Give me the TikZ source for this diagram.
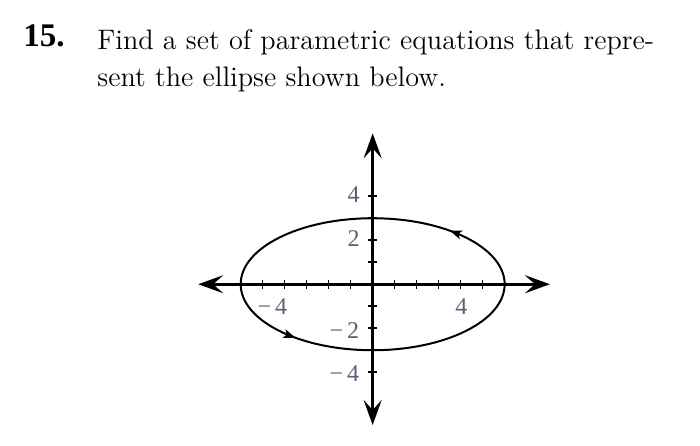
\documentclass[tikz,border=0pt]{standalone}
\usepackage{fontspec}
\usepackage{tikz}
\usetikzlibrary{arrows.meta,decorations.markings}
\newfontfamily\numfont{Liberation Serif}
\definecolor{labelgray}{RGB}{88,98,118}

\begin{document}
\begin{tikzpicture}[x=11pt, y=11pt,
	axisline/.style={line width=1.3pt, {Stealth[length=12.5pt, width=9pt, inset=5pt]}-{Stealth[length=12.5pt, width=9pt, inset=5pt]}},
	tickmark/.style={line width=0.8pt},
	lbl/.style={font=\numfont\fontsize{12}{14}\selectfont, text=labelgray, inner sep=0pt},
	txt/.style={font=\fontsize{14.1}{18}\selectfont, anchor=base west, inner sep=0pt},
	ellipsepath/.style={line width=1pt, postaction={decorate}, decoration={markings,
		mark=at position 0.127 with {\arrow{Stealth[length=6pt, width=4.5pt, inset=1.5pt]}},
		mark=at position 0.627 with {\arrow{Stealth[length=6pt, width=4.5pt, inset=1.5pt]}}}}]
	\useasboundingbox (-16.94,-7.35) rectangle (14.88,12.92);
	
	% problem text
	\node[anchor=base west, inner sep=0pt, font=\numfont\bfseries\fontsize{16.5}{18}\selectfont] (num) at (-15.9, 10.79) {15.};
	\node[txt] (line1) at (-12.53, 10.65) {Find a set of parametric equations that repre-};
	\node[txt] (line2) at (-12.53, 8.97) {sent the ellipse shown below.};
	
	% axes
	\coordinate (xl) at (-7.93, 0);
	\coordinate (xr) at (8.06, 0);
	\coordinate (yb) at (0, -6.4);
	\coordinate (yt) at (0, 6.86);
	\draw[axisline] (xl) -- (xr);
	\draw[axisline] (yb) -- (yt);
	\foreach \i in {-6,...,-1,1,2,...,6}
		\draw[tickmark] (\i, -0.2) -- (\i, 0.2);
	\foreach \i in {-4,...,-1,1,2,...,4}
		\draw[tickmark] (-0.2, \i) -- (0.2, \i);
	
	% labels
	\node[lbl] (xm4) at (-4.56, -1.02) {−\,4};
	\node[lbl] (xp4) at (4.03, -1.02) {4};
	\node[lbl, anchor=east] (yp4) at (-0.58, 4.06) {4};
	\node[lbl, anchor=east] (yp2) at (-0.58, 2.09) {2};
	\node[lbl, anchor=east] (ym2) at (-0.6, -2.12) {−\,2};
	\node[lbl, anchor=east] (ym4) at (-0.6, -4.08) {−\,4};
	
	% the ellipse, counterclockwise
	\draw[ellipsepath] (6, 0) arc[start angle=0, end angle=360, x radius=6, y radius=3];
\end{tikzpicture}
\end{document}
